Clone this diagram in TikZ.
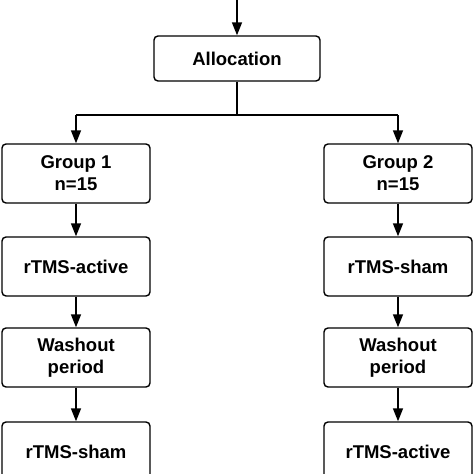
\documentclass[tikz,border=0pt]{standalone}
\usepackage{fontspec}
\setmainfont{Liberation Sans}
\usetikzlibrary{arrows.meta}

\tikzset{
  stagebox/.style={draw,rounded corners=4pt,line width=1.4pt,align=center,
    minimum width=148pt,minimum height=59pt,inner sep=0pt,
    font=\fontsize{18.5}{22}\selectfont\bfseries},
  flow/.style={line width=1.6pt,-{Triangle[length=13pt,width=10pt]}}
}

\begin{document}
\begin{tikzpicture}[x=1pt,y=-1pt]
    \useasboundingbox (0,0) rectangle (474,474);

    % allocation
    \coordinate (top) at (237,-5);
    \node[stagebox,minimum width=166pt,minimum height=45pt] (alloc) at (237,58.5) {Allocation};
    \draw[flow] (top) to (alloc.north);

    % split to both groups
    \coordinate (split) at (237,115);
    \coordinate (splitL) at (76,115);
    \coordinate (splitR) at (398,115);
    \draw[line width=1.6pt] (alloc.south) to (split);
    \draw[line width=1.6pt] (splitL) to (splitR);

    % group 1 arm
    \node[stagebox] (grpA) at (76,173.5) {Group 1\\n=15};
    \node[stagebox] (actA) at (76,266.5) {rTMS-active};
    \node[stagebox] (washA) at (76,357.5) {Washout\\period};
    \node[stagebox] (shamA) at (76,451.5) {rTMS-sham};
    \draw[flow] (splitL) to (grpA.north);
    \draw[flow] (grpA) to (actA);
    \draw[flow] (actA) to (washA);
    \draw[flow] (washA) to (shamA);

    % group 2 arm
    \node[stagebox] (grpB) at (398,173.5) {Group 2\\n=15};
    \node[stagebox] (shamB) at (398,266.5) {rTMS-sham};
    \node[stagebox] (washB) at (398,357.5) {Washout\\period};
    \node[stagebox] (actB) at (398,451.5) {rTMS-active};
    \draw[flow] (splitR) to (grpB.north);
    \draw[flow] (grpB) to (shamB);
    \draw[flow] (shamB) to (washB);
    \draw[flow] (washB) to (actB);

\end{tikzpicture}
\end{document}
